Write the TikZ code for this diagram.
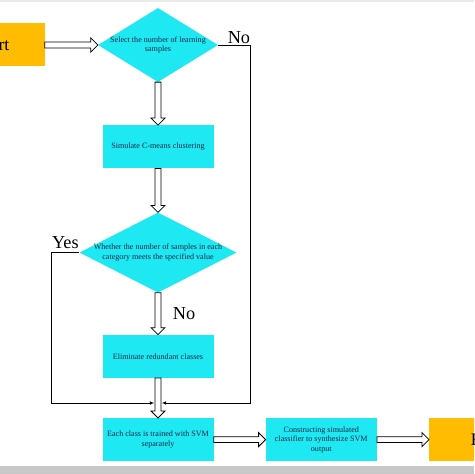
\documentclass[tikz,border=0pt]{standalone}
\usepackage{fontspec}
\setmainfont{Liberation Serif}
\usepackage{xcolor}
\usetikzlibrary{shapes.geometric,arrows.meta,positioning,calc}
\definecolor{boxcyan}{RGB}{30,232,242}
\definecolor{termorange}{RGB}{255,188,0}
\definecolor{textnavy}{RGB}{25,40,70}
\definecolor{bandgray}{RGB}{200,200,200}

\tikzset{
    process/.style={fill=boxcyan, minimum width=5.55cm, minimum height=2.15cm, align=center,
        inner sep=2pt, text=textnavy, font=\fontsize{11.5}{13.5}\selectfont},
    decision/.style={diamond, fill=boxcyan, align=center, inner sep=-0.1cm,
        text=textnavy, font=\fontsize{11.5}{13.5}\selectfont},
    terminal/.style={fill=termorange, minimum width=5.2cm, minimum height=2.15cm,
        font=\fontsize{25}{30}\selectfont},
    % hollow block arrow, drawn as one outline from the start to the target
    blockarrow/.style={draw=black, fill=white, line width=1.1pt, line join=miter,
        to path={let \p1=(\tikztostart), \p2=(\tikztotarget),
            \n1={veclen(\x2-\x1,\y2-\y1)-10pt}, \n2={atan2(\y2-\y1,\x2-\x1)} in
            ($(\p1)+(\n2+90:4.2pt)$) -- ($(\p1)+(\n2:{\n1*1pt})+(\n2+90:4.2pt)$)
            -- ($(\p1)+(\n2:{\n1*1pt})+(\n2+90:10pt)$) -- (\p2)
            -- ($(\p1)+(\n2:{\n1*1pt})+(\n2-90:10pt)$) -- ($(\p1)+(\n2:{\n1*1pt})+(\n2-90:4.2pt)$)
            -- ($(\p1)+(\n2-90:4.2pt)$) -- cycle}},
    feedback/.style={line width=1.1pt, -{Latex[length=6pt, width=5pt]}},
    tag/.style={inner sep=1pt, font=\fontsize{26}{30}\selectfont}
}

\begin{document}
\begin{tikzpicture}
    \clip (0,0) rectangle (23.7,23.7);
    \fill[bandgray] (0,0) rectangle (23.7,0.4);
    \fill[black!8] (0,23.6) rectangle (23.7,23.7);

    % main column
    \node[decision, shape aspect=1.62, minimum width=6cm, minimum height=3.7cm] (select) at (7.9,21.45)
        {Select the number of learning\\samples};
    \node[terminal, left=2.65cm of select] (start) {Start};
    \node[process, below=2.15cm of select] (cmeans) {Simulate C-means clustering};
    \node[decision, shape aspect=1.96, minimum width=7.85cm, minimum height=4cm, below=2.2cm of cmeans] (check)
        {Whether the number of samples in each\\category meets the specified value};
    \node[process, below=2.1cm of check] (elim) {Eliminate redundant classes};
    \node[process, below=2cm of elim] (train) {Each class is trained with SVM\\separately};
    \node[process, right=2.6cm of train] (combine)
        {Constructing simulated\\classifier to synthesize SVM\\output};
    \node[terminal, minimum width=5.6cm, right=2.6cm of combine] (finish) {End};

    \draw[blockarrow] (start.east) to (select.west);
    \draw[blockarrow] (select.south) to (cmeans.north);
    \draw[blockarrow] (cmeans.south) to (check.north);
    \draw[blockarrow] (check.south) to (elim.north);
    \node[tag, right=0.7cm] (noelim) at ($(check.south)!0.5!(elim.north)$) {No};
    \draw[blockarrow] (elim.south) to (train.north);
    \draw[blockarrow] (train.east) to (combine.west);
    \draw[blockarrow] (combine.east) to (finish.west);

    % loops back into the training step
    \coordinate[above right=0.75cm and 0.19cm of train.north] (joinR);
    \coordinate[above left=0.75cm and 0.19cm of train.north] (joinL);
    \draw[feedback] (select.east) -- node[tag, above, pos=0.65] {No} ++(1.6,0) |- (joinR);
    \draw[feedback] (check.west) -- node[tag, above=4pt] {Yes} ++(-1.4,0) |- (joinL);
\end{tikzpicture}
\end{document}
